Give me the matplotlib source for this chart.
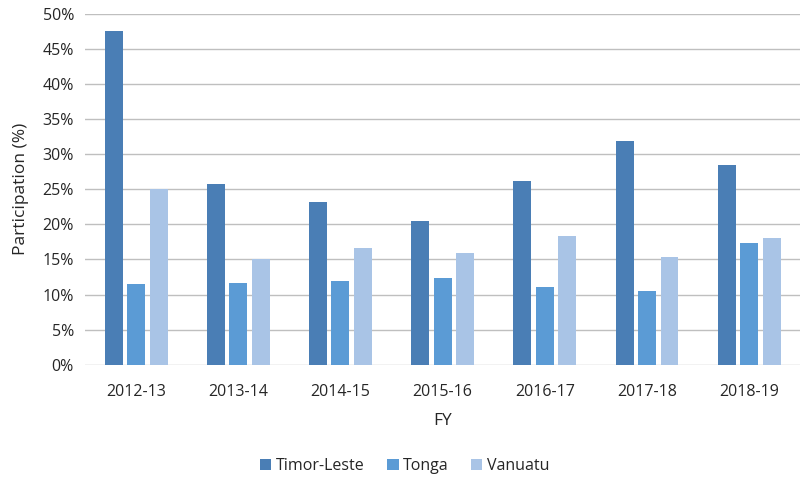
import numpy as np
import matplotlib.pyplot as plt
from matplotlib.ticker import PercentFormatter

plt.rcParams['font.family'] = ['Open Sans', 'DejaVu Sans']

years = ['2012-13', '2013-14', '2014-15', '2015-16', '2016-17', '2017-18', '2018-19']
timor = [47.5, 25.7, 23.2, 20.5, 26.2, 31.9, 28.5]
tonga = [11.5, 11.7, 12.0, 12.4, 11.1, 10.5, 17.4]
vanuatu = [25.1, 15.0, 16.6, 15.9, 18.3, 15.4, 18.0]

series = [('Timor-Leste', timor, '#4a7eb5'),
          ('Tonga', tonga, '#5b9bd5'),
          ('Vanuatu', vanuatu, '#a9c4e6')]

fig = plt.figure(figsize=(8.1, 4.91), dpi=100)
ax = fig.add_axes([0.105, 0.257, 0.883, 0.715])

x = np.arange(len(years))
w = 0.176
pitch = 0.22
for i, (name, vals, col) in enumerate(series):
    ax.bar(x + (i - 1) * pitch, vals, w, color=col, label=name, zorder=3)

ax.set_xlim(-0.5, len(years) - 0.5)
ax.set_ylim(0, 50)
ax.set_yticks(np.arange(0, 51, 5))
ax.yaxis.set_major_formatter(PercentFormatter(decimals=0))
ax.set_xticks(x)
ax.set_xticklabels(years)
ax.grid(axis='y', color='#bfbfbf', linewidth=1, zorder=0)
for s in ax.spines.values():
    s.set_visible(False)
ax.tick_params(length=0, labelsize=11.5, colors='#262626')
ax.tick_params(axis='x', pad=14)
ax.tick_params(axis='y', pad=8)
ax.set_xlabel('FY', fontsize=12.5, color='#262626', labelpad=9)
ax.set_ylabel('Participation (%)', fontsize=12.5, color='#262626', labelpad=10)

fig.legend(loc='center', bbox_to_anchor=(0.5, 0.05), ncol=3, frameon=False,
           fontsize=11.5, handlelength=0.7, handleheight=0.7, handletextpad=0.3,
           columnspacing=1.4, labelcolor='#262626')

fig.savefig('out.png', dpi=100)
